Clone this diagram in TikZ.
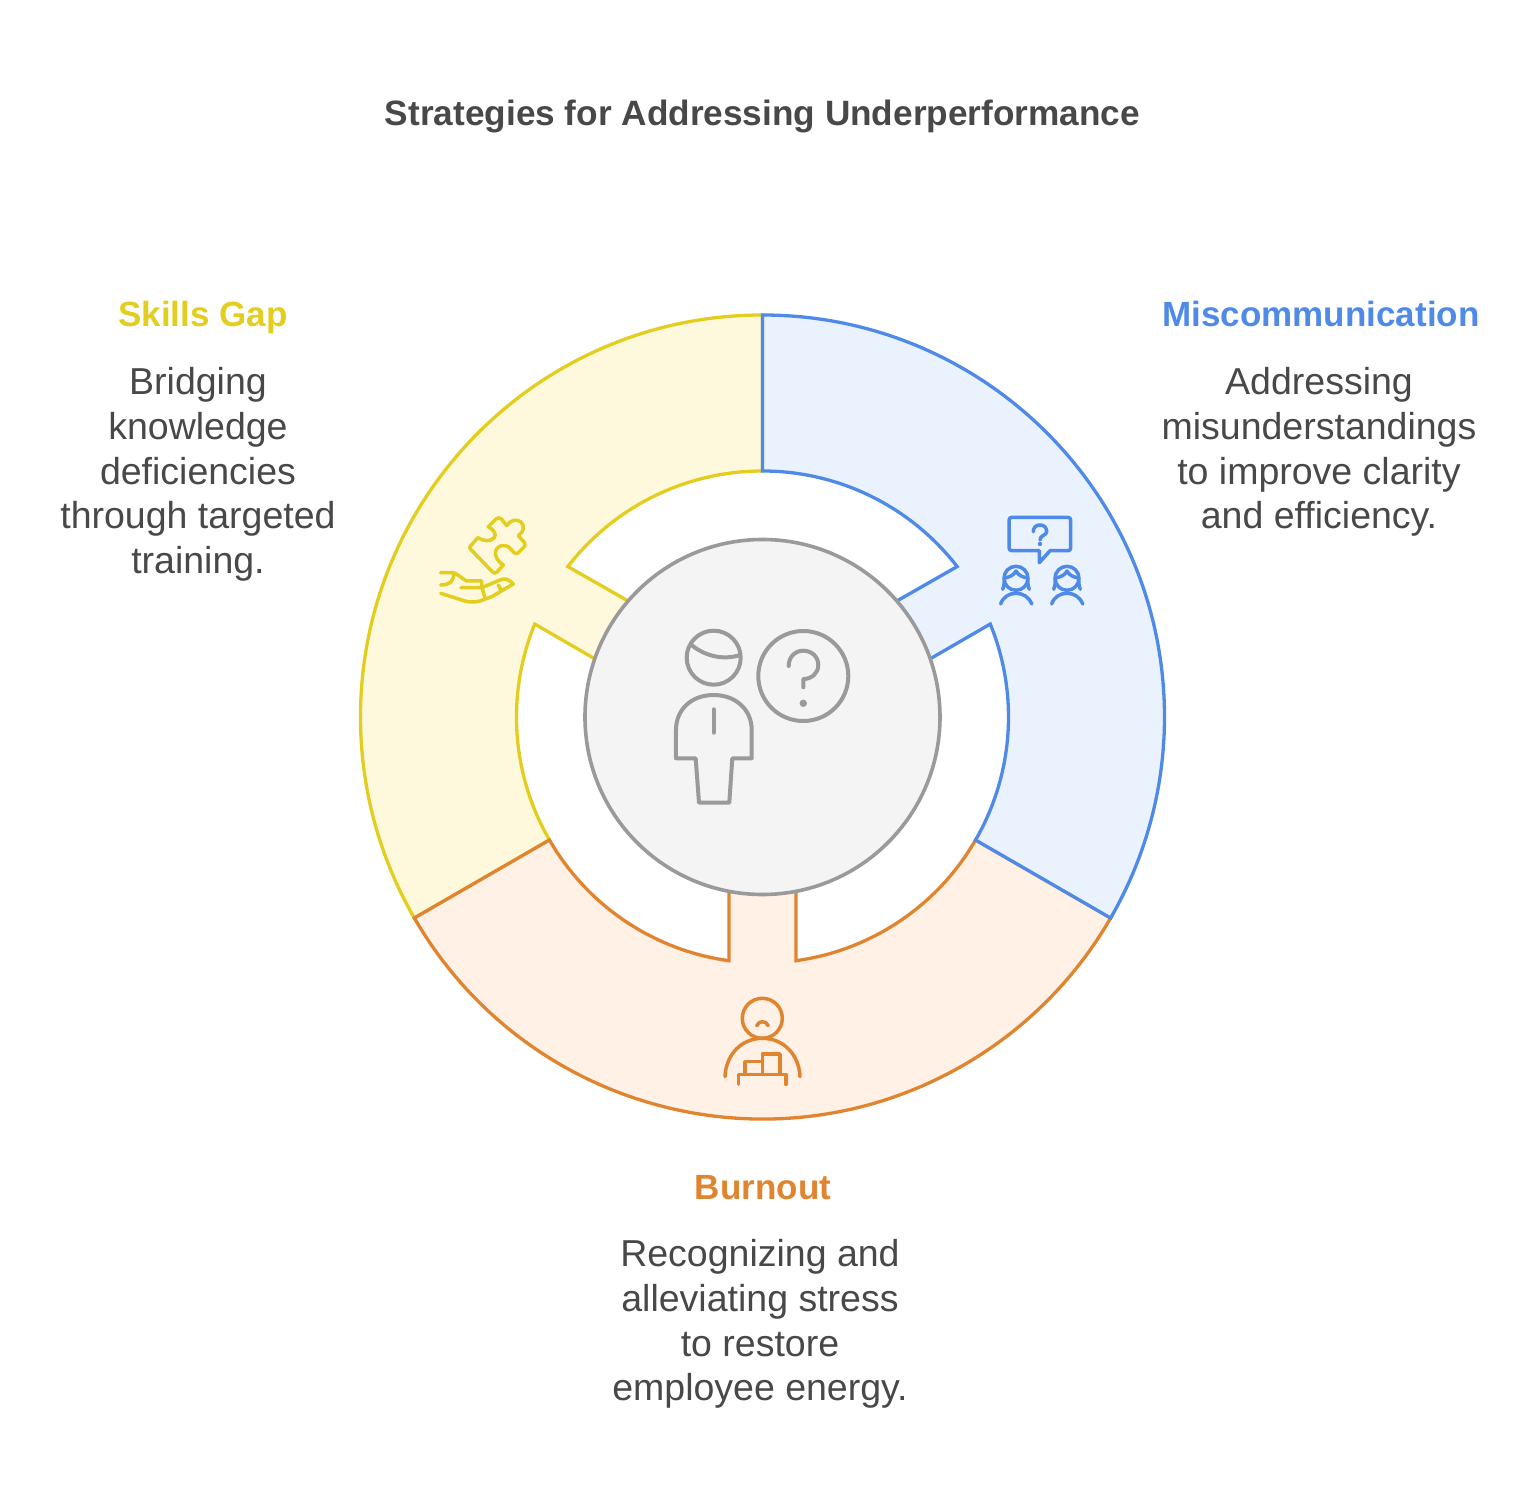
\documentclass[tikz,border=0pt]{standalone}
\usepackage{fontspec}
\setmainfont{Liberation Sans}
\usetikzlibrary{positioning}
\definecolor{inktext}{HTML}{484848}
\definecolor{blueline}{HTML}{4F8AE8}
\definecolor{bluefill}{HTML}{EAF2FE}
\definecolor{yellowline}{HTML}{E3CD1E}
\definecolor{yellowfill}{HTML}{FEF9DC}
\definecolor{orangeline}{HTML}{E0842F}
\definecolor{orangefill}{HTML}{FFF1E5}
\definecolor{grayline}{HTML}{9A9A9A}
\definecolor{grayfill}{HTML}{F4F4F4}
\tikzset
{
    pixels/.style = {shift={(-762.5,717)}, yscale=-1},
    segment/.style = {line width=3.3pt, line join=miter},
    hubcircle/.style = {circle, draw=grayline, fill=grayfill, line width=3.6pt, minimum size=355pt, inner sep=0pt},
    icon/.style = {line width=3.5pt, line cap=round, line join=round},
    bigicon/.style = {line width=4pt, line cap=round, line join=round, draw=grayline},
    titlenode/.style = {font=\bfseries\fontsize{35.2}{45}\selectfont, text=inktext, inner sep=0pt, text height=26pt, text depth=8pt},
    headnode/.style = {font=\bfseries\fontsize{35}{45}\selectfont, inner sep=0pt, text height=26pt, text depth=8pt},
    textnode/.style = {font=\fontsize{37.5}{44.8}\selectfont, text=inktext, align=center, inner sep=0pt}
}
\begin{document}
\begin{tikzpicture}[x=1pt,y=1pt]
\useasboundingbox (-762.5,-785) rectangle (773.5,717);
\draw[segment,draw=yellowline,fill=yellowfill] (90:402) arc[start angle=90,end angle=210,radius=402] -- (210:246) arc[start angle=210,end angle=157.8,radius=246] -- (160.96:176) arc[start angle=160.96,end angle=139.1,radius=176] -- (142.3:246) arc[start angle=142.3,end angle=90,radius=246] -- cycle;
\draw[segment,draw=orangeline,fill=orangefill] (210:402) arc[start angle=210,end angle=330,radius=402] -- (330:246) arc[start angle=330,end angle=277.83,radius=246] -- (280.97:176) arc[start angle=280.97,end angle=259.03,radius=176] -- (262.17:246) arc[start angle=262.17,end angle=210,radius=246] -- cycle;
\draw[segment,draw=blueline,fill=bluefill] (90:402) arc[start angle=90,end angle=-30,radius=402] -- (-30:246) arc[start angle=-30,end angle=22.2,radius=246] -- (19.04:176) arc[start angle=19.04,end angle=40.9,radius=176] -- (37.7:246) arc[start angle=37.7,end angle=90,radius=246] -- cycle;
\node[hubcircle] (hub) at (0,0) {};
\begin{scope}[pixels]
\node[titlenode] (title) at (762.5,117) {Strategies for Addressing Underperformance};
\node[headnode,text=yellowline] (skillshead) at (203,318) {Skills Gap};
\node[textnode,below=32pt of skillshead,xshift=-5pt] (skillstext) {Bridging\\knowledge\\deficiencies\\through targeted\\training.};
\node[headnode,text=blueline] (mischead) at (1321,318) {Miscommunication};
\node[textnode,below=32pt of mischead,xshift=-2pt] (misctext) {Addressing\\misunderstandings\\to improve clarity\\and efficiency.};
\node[headnode,text=orangeline] (burnhead) at (763,1190) {Burnout};
\node[textnode,below=32pt of burnhead,xshift=-3pt] (burntext) {Recognizing and\\alleviating stress\\to restore\\employee energy.};
\draw[bigicon] (713.7,657.7) circle[radius=27];
\draw[bigicon] (690.7,644.3) .. controls (703,655) and (722,661) .. (740,655);
\draw[bigicon] (676,758.3) -- (676,730) .. controls (676,709) and (692,695) .. (713.7,695) .. controls (735,695) and (751.7,709) .. (751.7,730) -- (751.7,758.3) -- (732.3,758.3) -- (729.3,802.7) -- (699,802.7) -- (695.7,758.3) -- cycle;
\draw[bigicon] (713.7,709.3) -- (713.7,732.7);
\draw[bigicon] (803.3,676) circle[radius=45];
\draw[bigicon] (788.7,666) .. controls (788.7,657) and (795,650.7) .. (803.3,650.7) .. controls (812,650.7) and (818.3,657) .. (818.3,665) .. controls (818.3,673) and (812,679) .. (803.3,679) -- (803.3,687.3);
\fill[grayline] (803.3,703.3) circle[radius=3.7];
\draw[icon,draw=blueline] (1012,517.3) -- (1067.7,517.3) .. controls (1069.7,517.3) and (1070.7,518.3) .. (1070.7,520.3) -- (1070.7,547.7) .. controls (1070.7,549.7) and (1069.7,550.7) .. (1067.7,550.7) -- (1050,550.7) -- (1039.3,562.7) -- (1039.3,550.7) -- (1012,550.7) .. controls (1010,550.7) and (1009,549.7) .. (1009,547.7) -- (1009,520.3) .. controls (1009,518.3) and (1010,517.3) .. (1012,517.3) -- cycle;
\draw[icon,draw=blueline] (1033.3,531.7) .. controls (1033.3,527.5) and (1036,525) .. (1040,525) .. controls (1044,525) and (1046.7,527.5) .. (1046.7,531.7) .. controls (1046.7,535.5) and (1040,535) .. (1040,540);
\fill[blueline] (1040,544) circle[radius=2.2];
\foreach \offset in {0,51}{
\begin{scope}[xshift=\offset]
\draw[icon,draw=blueline] (1016,578.3) circle[radius=12];
\draw[icon,draw=blueline] (1004.5,578) .. controls (1010,577) and (1014,575) .. (1016,571) .. controls (1018,575) and (1022,577) .. (1027.5,578);
\draw[icon,draw=blueline] (1002.7,589.3) .. controls (1004.5,585) and (1004,582) .. (1004.5,578);
\draw[icon,draw=blueline] (1029.3,589.3) .. controls (1027.5,585) and (1028,582) .. (1027.5,578);
\draw[icon,draw=blueline] (1000.7,604) .. controls (1003,597) and (1009,593.3) .. (1016,593.3) .. controls (1023,593.3) and (1029,597) .. (1031.7,604);
\end{scope}
}
\draw[icon,draw=yellowline] (470,546.7) -- (477.7,537.7) .. controls (483,541) and (490,542) .. (494,538) .. controls (497,534) and (494,530) .. (488.3,526.7) -- (496,519) .. controls (498,517.5) and (500,517.5) .. (501.5,519) -- (506.7,525.7) .. controls (510,520) and (517,518.5) .. (521,522) .. controls (525,526) and (524,532) .. (518.3,535.7) -- (524,542) .. controls (525.5,544) and (525.5,545) .. (524,547) -- (518.5,552.5) .. controls (517,554) and (516,554) .. (514.5,553) -- (508.3,546.7) .. controls (503,544) and (498,546) .. (496,550) .. controls (494,555) and (497,561) .. (503.3,565) -- (497,572) .. controls (495.5,573.5) and (494,573.5) .. (492.5,572) -- (470,548.5) -- cycle;
\draw[icon,draw=yellowline] (440.7,572.7) -- (453.3,572.7) .. controls (458,574) and (461,578) .. (466.7,581) -- (481.7,581) -- (481.7,587.7) -- (461,587.7);
\draw[icon,draw=yellowline] (440.7,585) .. controls (450,585) and (455,580) .. (453.3,572.7);
\draw[icon,draw=yellowline] (481.7,587.7) -- (500,580) .. controls (505,578.5) and (508,578.5) .. (510,581) -- (513.3,584) -- (491.7,596.7) -- (480,601) .. controls (473,603) and (467,602) .. (461.7,600) -- (440.7,593.3);
\draw[icon,draw=yellowline] (482.3,588.3) -- (485,598.3);
\draw[icon,draw=yellowline] (498.3,585) -- (501,590);
\draw[icon,draw=orangeline] (762.3,1018.3) circle[radius=20];
\draw[icon,draw=orangeline] (756.7,1025.7) .. controls (758,1023) and (760,1021.7) .. (762.3,1021.7) .. controls (765,1021.7) and (767,1023) .. (768.3,1025.7);
\draw[icon,draw=orangeline] (725,1076.7) .. controls (726,1054) and (742,1038.3) .. (762.3,1038.3) .. controls (783,1038.3) and (799,1054) .. (800,1076.7);
\draw[icon,draw=orangeline] (738.3,1084.3) -- (738.3,1074.3) -- (786,1074.3) -- (786,1084.3);
\draw[icon,draw=orangeline] (745,1074.3) -- (745,1061.7) -- (762.3,1061.7) -- (762.3,1074.3);
\draw[icon,draw=orangeline] (762.3,1061.7) -- (762.3,1054) -- (780,1054) -- (780,1074.3);
\end{scope}
\end{tikzpicture}
\end{document}
